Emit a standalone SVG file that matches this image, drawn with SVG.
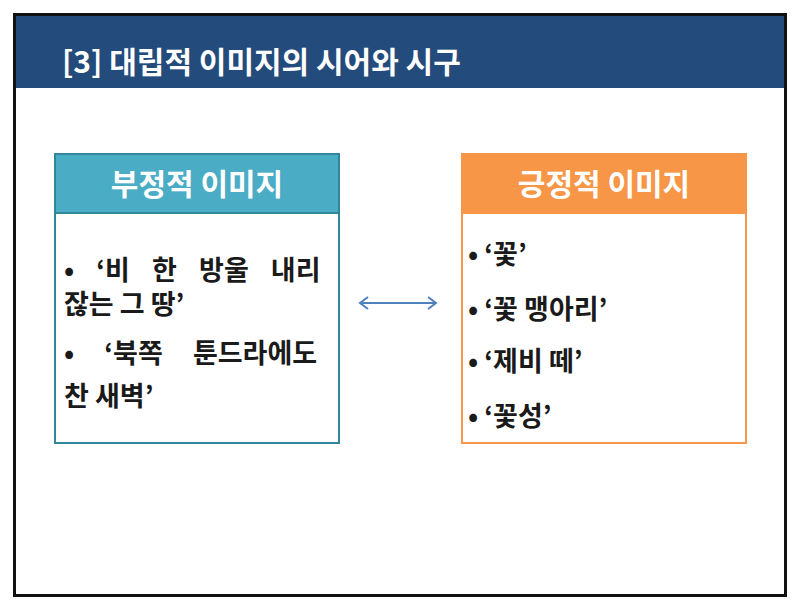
<svg xmlns="http://www.w3.org/2000/svg" width="800" height="608" viewBox="0 0 800 608">
<style>
text{font-family:"Noto Sans CJK KR","Noto Sans",sans-serif;font-weight:bold}
.h{fill:#fff;font-size:30px}
.b{fill:#1a1a1a;font-size:27px}
</style>
<defs>
<marker id="ah" markerWidth="12" markerHeight="14" refX="10" refY="7" orient="auto-start-reverse" markerUnits="userSpaceOnUse">
<path d="M2,1 L10,7 L2,13" fill="none" stroke="#4f81bd" stroke-width="2"/>
</marker>
</defs>
<rect width="800" height="608" fill="#fff"/>
<rect x="14.5" y="14.5" width="771" height="581" fill="#fff" stroke="#111" stroke-width="3"/>
<g id="title">
<rect x="16" y="16" width="768" height="72" fill="#234b7c"/>
<text x="62" y="73" class="h" font-size="31">[3] 대립적 이미지의 시어와 시구</text>
</g>
<g id="neg">
<rect x="55" y="154" width="284" height="289" fill="#fff" stroke="#31859c" stroke-width="2"/>
<rect x="55" y="154" width="284" height="59" fill="#4bacc6" stroke="#31859c" stroke-width="2"/>
<text x="197" y="195" class="h" text-anchor="middle">부정적 이미지</text>
<text x="64" y="280" class="b" word-spacing="16">• ‘비 한 방울 내리</text>
<text x="64" y="314" class="b">잖는 그 땅’</text>
<text x="64" y="363" class="b" word-spacing="24">• ‘북쪽 툰드라에도</text>
<text x="64" y="406" class="b">찬 새벽’</text>
</g>
<g id="pos">
<rect x="462" y="154" width="284" height="289" fill="#fff" stroke="#f79646" stroke-width="2"/>
<rect x="462" y="154" width="284" height="59" fill="#f79646" stroke="#f79646" stroke-width="2"/>
<text x="604" y="195" class="h" text-anchor="middle">긍정적 이미지</text>
<text x="468" y="264" class="b">• ‘꽃’</text>
<text x="468" y="319" class="b">• ‘꽃 맹아리’</text>
<text x="468" y="371" class="b">• ‘제비 떼’</text>
<text x="468" y="426" class="b">• ‘꽃성’</text>
</g>
<g id="connectors">
<line x1="360" y1="303" x2="436" y2="303" stroke="#4f81bd" stroke-width="2" marker-start="url(#ah)" marker-end="url(#ah)"/>
</g>
</svg>
